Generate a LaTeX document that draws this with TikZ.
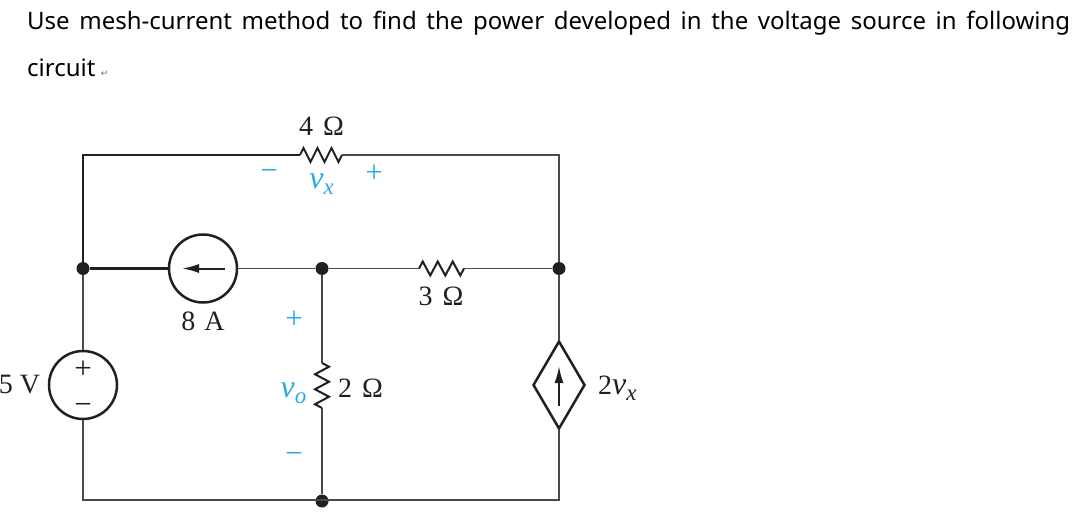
\documentclass[tikz,border=0pt]{standalone}
\usepackage{fontspec}
\setmainfont{Noto Sans}
\newfontfamily\circuitfont{Liberation Serif}
\newfontfamily\symbolfont{DejaVu Sans}
\usetikzlibrary{arrows.meta,decorations.pathmorphing,positioning,shapes.geometric}
\definecolor{wireblack}{HTML}{231F20}
\definecolor{wiregray}{HTML}{4A4A4A}
\definecolor{varblue}{HTML}{29ABE2}
\newcommand{\volt}[1]{\textit{v}\raisebox{-6pt}{\fontsize{23}{23}\selectfont\textit{#1}}}
\tikzset{%
  >={Latex[length=17pt,width=9pt]},
  wire/.style={draw=wiregray,line width=1.5pt},
  heavy/.style={draw=wireblack,line width=2.5pt},
  res/.style={draw=wireblack,line width=2pt,decorate,decoration={zigzag,amplitude=7pt,segment length=#1}},
  dot/.style={circle,fill=wireblack,inner sep=0pt,minimum size=13pt},
  src/.style={circle,draw=wireblack,line width=2.5pt,inner sep=0pt,minimum size=68pt},
  dep/.style={diamond,draw=wireblack,line width=2.5pt,inner sep=0pt,minimum width=52pt,minimum height=88pt},
  lab/.style={inner sep=0pt,text=wireblack,font=\circuitfont\fontsize{28}{30}\selectfont},
  var/.style={inner sep=0pt,text=varblue,font=\circuitfont\fontsize{32}{34}\selectfont},
  sgn/.style={inner sep=0pt,font=\circuitfont\fontsize{31}{33}\selectfont},
  txt/.style={inner sep=0pt,anchor=base west,font=\fontsize{24}{28}\selectfont}
}
\begin{document}
\begin{tikzpicture}[x=1pt,y=-1pt]
	\useasboundingbox (0,0) rectangle (1076,513);
	% text above the circuit
	\node[txt] (line1) at (27,30) {\makebox[1043pt][s]{Use mesh-current method to find the power developed in the voltage source in following}};
	\node[txt] (line2) at (27,77) {circuit};
	\node[right=5pt of line2.base east,anchor=base west,inner sep=0pt,text=black!55,font=\symbolfont\fontsize{9}{9}\selectfont] (ret) {↵};
	% corners and resistor ends
	\coordinate (tl) at (83,155);
	\coordinate (tr) at (559,155);
	\coordinate (bl) at (83,500);
	\coordinate (br) at (559,500);
	\coordinate (r4a) at (300,155);
	\coordinate (r4b) at (342,155);
	\coordinate (r3a) at (419,268.5);
	\coordinate (r3b) at (464,268.5);
	\coordinate (r2a) at (322,363);
	\coordinate (r2b) at (322,408);
	% junctions and sources
	\node[dot] (jl) at (83,268.5) {};
	\node[dot] (jm) at (322,268.5) {};
	\node[dot] (jr) at (559,268.5) {};
	\node[dot] (jb) at (322,501) {};
	\node[src] (is) at (203,268.5) {};
	\node[src] (vs) at (83,385) {};
	\node[dep] (cs) at (559,385) {};
	% wires
	\draw[heavy] (r4a) -- (tl) -- (jl);
	\draw[heavy] (jl) -- (is);
	\draw[wire] (r4b) -- (tr) -- (jr);
	\draw[wire] (is) -- (jm);
	\draw[wire] (jm) -- (r3a);
	\draw[wire] (r3b) -- (jr);
	\draw[wire] (jl) -- (vs);
	\draw[wire] (vs) -- (bl) -- (br) -- (cs);
	\draw[wire] (cs) -- (jr);
	\draw[wire] (jm) -- (r2a);
	\draw[wire] (r2b) -- (jb);
	% resistors
	\draw[res=14pt] (r4a) -- (r4b);
	\draw[res=15pt] (r3a) -- (r3b);
	\draw[res=15pt] (r2a) -- (r2b);
	% arrows in the sources
	\coordinate (isa) at (225,268.5);
	\coordinate (isb) at (182,268.5);
	\coordinate (csa) at (559,406);
	\coordinate (csb) at (559,366);
	\draw[->,draw=wireblack,line width=2pt] (isa) -- (isb);
	\draw[->,draw=wireblack,line width=2pt] (csa) -- (csb);
	% labels
	\node[lab] (l4) at (321.5,126) {4\hspace{10pt}Ω};
	\node[lab] (l3) at (441,296) {3\hspace{10pt}Ω};
	\node[lab] (l8) at (203,321) {8\hspace{9pt}A};
	\node[lab] (l5) at (19.5,385) {5\hspace{7pt}V};
	\node[lab,anchor=west] (l2) at (338,388) {2\hspace{10pt}Ω};
	\node[lab,anchor=west] (ld) at (598,388) {2{\fontsize{32}{34}\selectfont\volt{x}}};
	\node[var] (vx) at (321.5,184) {\volt{x}};
	\node[var] (vo) at (293.5,393) {\volt{o}};
	\node[sgn,text=varblue] (mx) at (269,175) {−};
	\node[sgn,text=varblue] (px) at (374,174) {+};
	\node[sgn,text=varblue] (po) at (294,320) {+};
	\node[sgn,text=varblue] (mo) at (294,458) {−};
	\node[sgn,text=wireblack] (pv) at (83,370) {+};
	\node[sgn,text=wireblack] (mv) at (83,409) {−};
\end{tikzpicture}
\end{document}
